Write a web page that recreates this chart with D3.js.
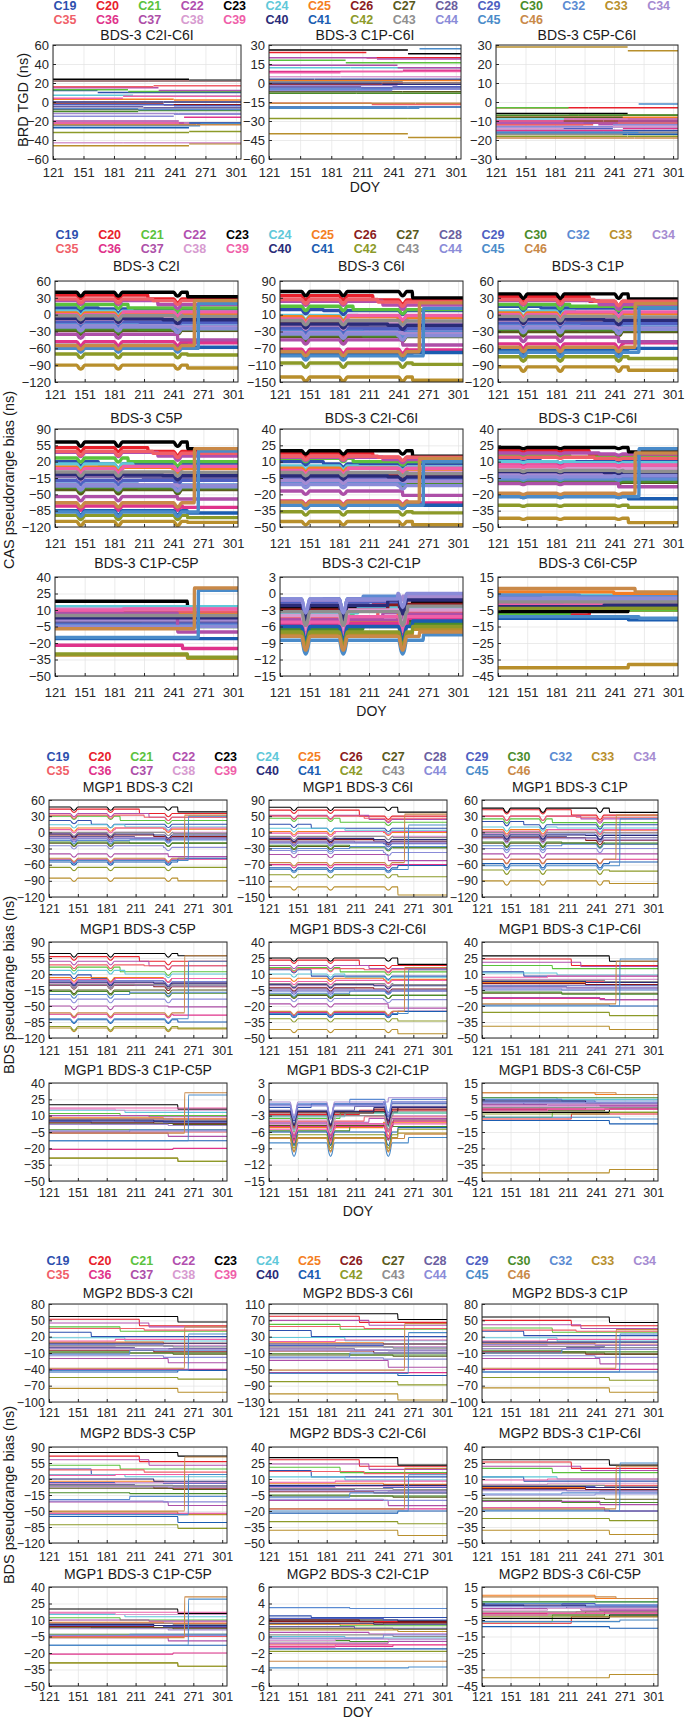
<!DOCTYPE html>
<html lang="en">
<head>
<meta charset="UTF-8">
<title>BDS-3 code biases</title>
<script src="https://cdn.jsdelivr.net/npm/d3@7"></script>
<style>
  body { margin: 0; background: #fff; }
  svg { font-family: "Liberation Sans", Arial, sans-serif; }
  .grid line { stroke: #e2e2e2; stroke-width: 0.7; }
  .grid path { display: none; }
  .ax path { display: none; }
  .ax line { stroke: #262626; }
  .ax text { fill: #262626; }
  .frame { fill: none; stroke: #262626; stroke-width: 1; }
</style>
</head>
<body>
<svg id="fig" width="685" height="1718"></svg>
<script>
// satellites, legend order
const sats = ["C19","C20","C21","C22","C23","C24","C25","C26","C27","C28","C29","C30","C32","C33","C34",
              "C35","C36","C37","C38","C39","C40","C41","C42","C43","C44","C45","C46"];
const satColors = ["#2d4fae","#e8212b","#5bc23d","#b14fae","#000000","#5fc8d9","#f47e22","#8a1b1d","#595a1c",
                   "#6b5f9f","#4f5fc2","#4a8c2b","#5b8bd2","#b88f2c","#a58bd1","#f05f69","#df338b","#ad4fa8",
                   "#d79bd0","#ef5fa9","#2a2b78","#1b5db1","#8c9a29","#8f8f8f","#8a8bd8","#4a8bc9","#c98948"];
// DOY where each satellite changes level
const stepDoy = [165,215,195,225,255,200,240,230,250,210,240,205,205,255,245,220,250,245,190,190,230,255,255,250,240,266,262];
const dipDoy = [147, 185, 245];
const doyTicks = [121, 151, 181, 211, 241, 271, 301];

// level before (a) and after (b) the step, per satellite, ns
const brdC2IC6I_a = [12,22,13,15,24,7,3,-2,-8,-5,-3,-10,-7,-46,-12,16,-22,-20,-43,4,0,-27,-32,22,-15,-25,-24];
const brdC2IC6I_b = [10,22,11,12,23,6,2,-3,-8,-6,-4,-9,-8,-44,-12,17,-16,-22,-43,6,0,-22,-31,22,-13,-23,-24];
const brdC1PC6I_a = [3,24,18,20,26,12,2,-1,-7,-3,-4,-8,-5,-40,-2,-16,9,14,5,8,0,-19,-28,1,-6,-20,-16];
const brdC1PC6I_b = [3,20,16,19,23,12,2,0,-7,-4,-3,-8,-5,-43,-1,-17,10,12,5,9,-1,-19,-28,0,-5,27,-16];
const brdC5PC6I_a = [-15,-3,-3,-11,-6,-9,-8,-10,-8,-12,-14,-7,-16,29,-13,-12,-15,-11,-14,-10,-16,-17,-18,-17,-13,-16,-19];
const brdC5PC6I_b = [-15,-3,-7,-12,-9,-9,-8,-10,-7,-11,-13,-7,-16,27,-13,-11,-14,-10,-13,-9,-16,-17,-18,-16,-12,-1,-19];

const casC2I_a = [12,35,18,25,40,6,3,-5,-28,-10,-14,-25,-18,-90,-20,28,-48,-35,-8,0,-7,-55,-70,-2,-22,-60,-55];
const casC2I_b = [10,28,12,18,32,5,2,-8,-28,-12,-14,-26,-20,-95,-22,25,-50,-45,-6,5,-9,-58,-72,-3,-25,20,25];
const casC6I_a = [22,55,30,42,65,8,5,-10,-42,-18,-24,-38,-30,-138,-33,46,-72,-50,-14,0,-12,-82,-105,-4,-36,-88,-78];
const casC6I_b = [20,45,22,33,50,6,3,-14,-42,-20,-24,-40,-32,-146,-35,40,-74,-62,-10,8,-15,-80,-108,-5,-40,25,38];
const casC1P_a = [15,32,18,25,37,6,3,-8,-30,-12,-16,-26,-20,-93,-22,27,-52,-40,-9,0,-8,-62,-75,-3,-24,-67,-58];
const casC1P_b = [12,24,15,18,28,4,2,-10,-30,-14,-16,-27,-22,-99,-24,24,-50,-48,-6,5,-10,-60,-78,-4,-26,12,20];
const casC5P_a = [20,50,28,40,62,15,8,-5,-40,-12,-20,-35,-28,-108,-30,42,-75,-55,-10,5,-8,-85,-95,-2,-32,-88,-68];
const casC5P_b = [15,42,20,32,48,10,5,-8,-40,-14,-20,-36,-30,-110,-32,38,-78,-60,-6,10,-10,-90,-100,-3,-34,43,48];
const casC2IC6I_a = [10,18,13,14,20,6,4,-1,-10,-4,-6,-9,-8,-45,-7,15,-26,-17,-2,2,-3,-30,-36,0,-11,-30,-27];
const casC2IC6I_b = [8,14,10,12,15,5,3,-2,-10,-5,-6,-10,-8,-48,-8,14,-28,-21,0,4,-4,-30,-37,-1,-12,10,13];
const casC1PC6I_a = [11,20,16,18,23,10,4,0,-9,-3,-5,-8,-6,-42,-2,14,7,-10,3,6,1,-22,-30,2,-4,-22,-19];
const casC1PC6I_b = [10,16,14,17,19,9,4,0,-9,-4,-5,-8,-6,-46,-1,13,6,-13,4,7,0,-24,-32,1,-3,22,18];
const casC1PC5P_a = [4,8,12,10,18,13,6,2,-1,0,-3,-5,-4,-31,1,9,-22,7,11,10,3,-16,-30,5,-5,-15,-7];
const casC1PC5P_b = [3,8,10,9,12,13,6,2,-1,-1,-3,-5,-4,-34,1,9,-25,-10,11,11,3,-16,-33,5,-5,28,30];
const casC2IC1P_a = [-2,-3,-4,-4.5,-2.5,-3.5,-5,-3,-6,-2,-1.5,-6.5,-1,-7.5,-1.2,-4.2,-5.5,-4.8,-4,-5.2,-2.2,-6,-7,-3.3,-1,-8.5,-7.8];
const casC2IC1P_b = [-1,-2,-3,-3.5,-1.5,-2.5,-4,-2,-5,-1,-0.5,-5.5,-0.5,-6.5,-0.5,-3.2,-4.5,-3.8,-3,-4.2,-1.2,-5,-6,-2.3,0,-7.5,-7];
const casC6IC5P_a = [3,-8,-7,0,-6,5,6,-2,-3,1,2,-4,4,-40,2,0,-1,-1,1,-2,-3,-10,-4,0,2,-9,8];
const casC6IC5P_b = [2,-5,-5,0,-2,4,5,-1,-2,1,1,-3,3,-38,2,0,-1,0,1,-1,-2,-11,-4,0,2,-10,6];

const mgp1C2I_a = [22,43,30,35,47,14,8,-5,-20,-8,-12,-18,-15,-85,-10,32,-50,-40,-2,5,-3,-55,-65,0,-25,-52,-48];
const mgp1C2I_b = [15,35,22,28,38,10,6,-8,-20,-10,-12,-20,-14,-90,-12,28,-50,-45,0,8,-5,-48,-65,-2,-28,30,32];
const mgp1C6I_a = [30,65,45,52,72,20,12,-8,-25,-12,-16,-22,-30,-125,-14,50,-70,-45,-3,8,-5,-78,-95,0,-35,-82,-65];
const mgp1C6I_b = [20,50,35,42,60,15,10,-12,-28,-14,-18,-28,-25,-145,-16,45,-70,-60,0,12,-8,-72,-100,-3,-40,28,55];
const mgp1C1P_a = [20,42,25,30,45,10,5,-10,-20,-8,-3,-18,-25,-90,-12,30,-50,-40,-2,2,-5,-58,-70,0,-30,-62,-50];
const mgp1C1P_b = [14,32,18,25,37,8,4,-15,-22,-10,-5,-20,-22,-95,-14,28,-50,-40,0,5,-6,-55,-72,-1,-30,25,32];
const mgp1C5P_a = [18,58,35,48,65,28,12,-5,-15,-2,5,-18,-25,-98,-4,40,-68,-50,0,8,2,-80,-95,-3,-35,-78,-65];
const mgp1C5P_b = [10,48,25,38,60,20,10,-8,-15,-4,3,-22,-20,-100,-6,38,-70,-52,0,10,0,-85,-98,-4,-35,48,60];
const mgp1C2IC6I_a = [14,23,16,18,25,10,6,-3,-10,-4,-6,-9,-8,-42,-5,15,-26,-18,-1,3,0,-28,-32,1,-13,-27,-25];
const mgp1C2IC6I_b = [8,18,12,15,19,7,5,-4,-10,-5,-6,-10,-6,-46,-6,14,-25,-22,0,4,-1,-25,-34,0,-14,14,16];
const mgp1C1PC6I_a = [12,24,18,21,27,11,2,1,-8,-2,-1,-7,-4,-39,-3,3,-13,-12,5,7,3,-19,-26,4,-5,-20,-18];
const mgp1C1PC6I_b = [8,18,15,17,22,9,2,0,-8,-3,-1,-9,-5,-42,-3,3,-14,-14,5,8,2,-20,-29,3,-4,24,22];
const mgp1C1PC5P_a = [5,7,12,10,20,15,8,4,3,6,5,-3,-5,-29,2,-5,-21,-6,16,17,6,-13,-29,7,-4,-13,-6];
const mgp1C1PC5P_b = [3,7,10,9,16,13,7,3,2,5,4,-3,-3,-32,1,-5,-20,-9,15,17,5,-13,-32,6,-4,29,31];
const mgp1C2IC1P_a = [-1.5,-2.8,-3.5,-4.2,-2.3,-3.2,-5.2,-2.5,-4.8,-2,-1,-5.8,-0.8,-7,-0.5,-4,-5,-4.5,-3.8,-5.5,-2.2,-6,-6.5,-3,-1.2,-8,-7.2];
const mgp1C2IC1P_b = [-0.8,-2,-2.5,-3.5,-1.5,-2.5,-4.2,-1.8,-3.8,-1.3,-0.5,-5,0,-6.2,0.3,-3.2,-4,-3.6,-3,-4.5,-1.5,-5.2,-5.5,-2.2,-0.5,-7,-6.4];
const mgp1C6IC5P_a = [3,-7,-6,1,-3,6,9,-1,-2,2,4,6,5,-40,3,0,-1,2,1,-2,4,-8,-4,0,3,-6,9];
const mgp1C6IC5P_b = [2,-4,-3,1,-1,5,8,0,-1,2,3,6,4,-38,2,0,-1,1,2,-1,3,-10,-3,0,3,-7,8];

const mgp2C2I_a = [28,52,38,45,57,18,10,-5,-10,0,5,-8,-12,-75,-2,35,-40,-20,2,12,8,-45,-55,3,-15,-42,-38];
const mgp2C2I_b = [20,40,30,38,47,12,8,-8,-12,-2,3,-10,-5,-82,-3,32,-40,-28,4,15,8,-42,-58,1,-18,25,38];
const mgp2C6I_a = [45,80,60,70,86,28,15,-5,-15,0,8,-12,-20,-110,-3,55,-58,-28,3,18,12,-60,-80,5,-22,-60,-52];
const mgp2C6I_b = [30,65,48,58,72,20,12,-10,-18,-3,5,-15,-10,-125,-5,50,-58,-45,6,22,12,-65,-88,2,-25,40,62];
const mgp2C1P_a = [30,50,36,42,56,18,8,-8,-10,2,6,-5,-10,-74,-2,32,-40,-20,4,12,10,-45,-55,2,-15,-45,-38];
const mgp2C1P_b = [22,40,28,35,46,12,6,-12,-12,0,4,-8,-3,-82,-3,30,-40,-30,5,15,10,-45,-60,0,-18,25,33];
const mgp2C5P_a = [42,70,50,62,78,30,15,5,0,8,12,-10,-25,-52,3,40,-55,-30,10,28,20,-62,-80,6,-28,-58,-50];
const mgp2C5P_b = [30,58,42,50,70,25,12,0,-3,5,10,-12,-18,-58,2,35,-55,-38,12,30,15,-75,-88,4,-30,30,68];
const mgp2C2IC6I_a = [18,28,21,24,30,12,6,-2,-6,0,3,-5,-7,-38,-1,17,-18,-10,2,7,4,-22,-30,1,-9,-20,-18];
const mgp2C2IC6I_b = [12,22,16,19,23,9,5,-3,-7,-1,2,-6,-3,-43,-2,15,-18,-15,3,8,4,-20,-32,0,-10,14,20];
const mgp2C1PC6I_a = [12,26,20,22,28,12,2,1,-8,0,3,-10,-4,-38,-1,4,-17,-11,5,9,3,-19,-27,4,-5,-20,-18];
const mgp2C1PC6I_b = [8,20,16,18,23,10,2,0,-9,-1,2,-12,-3,-42,-2,4,-20,-14,6,10,2,-20,-29,3,-4,25,22];
const mgp2C2IC1P_a = [2.5,2,1.5,0.5,2,0,1.5,1.8,1,1.2,2.2,-0.5,3.5,0.8,-0.3,-1,-1.2,-0.8,-0.5,-1.3,1.6,-1.5,-1.8,0.2,-0.2,-3.8,-3];
const mgp2C2IC1P_b = [2.3,1.8,1.3,0.3,1.9,-0.2,1.6,1.7,0.9,1,2,-0.6,3.4,0.6,-0.4,-1,-1,-0.6,-0.3,-1,1.5,-1.5,-1.8,0,0.2,-3.7,-3];
const mgp2C6IC5P_a = [4,-7,-6,2,-4,6,10,-1,-2,2,5,6,5,-40,3,-1,-1,2,1,-2,4,-9,-3,0,3,-6,9];
const mgp2C6IC5P_b = [3,-3,-2,1,-2,6,8,0,-1,3,4,6,4,-38,2,0,0,1,2,-1,3,-10,-3,0,3,-5,8];

// tick labels of the y axes
const yt60 = [60,40,20,0,-20,-40,-60];
const yt30 = [30,15,0,-15,-30,-45,-60];
const yt3010 = [30,20,10,0,-10,-20,-30];
const ytBig = [60,30,0,-30,-60,-90,-120];
const ytC6I = [90,50,10,-30,-70,-110,-150];
const ytC5P = [90,55,20,-15,-50,-85,-120];
const ytDiff = [40,25,10,-5,-20,-35,-50];
const ytSmall = [3,0,-3,-6,-9,-12,-15];
const ytC6IC5P = [15,5,-5,-15,-25,-35,-45];
const ytMgp2 = [80,50,20,-10,-40,-70,-100];
const ytMgp2C6I = [110,70,30,-10,-50,-90,-130];
const ytMgp2C2IC1P = [6,4,2,0,-2,-4,-6];

const colsWide = [[55,238],[280,463],[498,678]];
const colsMgp = [[49,227],[269,447],[482,658]];

const sections = [
  { ylabel: "BRD TGD (ns)", ylx: 23, yly: 100, legY: 6, legX: 65, legDx: 42.4, doyY: 187,
    cols: [[53,241],[269,461],[496,678]], lw: 1.5, fs: 13, gap: true,
    rows: [{ top: 45, bottom: 159, title: 35, ticks: 172 }],
    panels: [
      { t: "BDS-3 C2I-C6I", yt: yt60, a: brdC2IC6I_a, b: brdC2IC6I_b, dip: 0 },
      { t: "BDS-3 C1P-C6I", yt: yt30, a: brdC1PC6I_a, b: brdC1PC6I_b, dip: 0 },
      { t: "BDS-3 C5P-C6I", yt: yt3010, a: brdC5PC6I_a, b: brdC5PC6I_b, dip: 0 }
    ] },
  { ylabel: "CAS pseudorange bias (ns)", ylx: 9, yly: 480, legY: 235, legX: 67, legDx: 42.6, doyY: 711,
    cols: colsWide, lw: 3.4, fs: 13, gap: false,
    rows: [{ top: 281, bottom: 382, title: 266, ticks: 394 },
           { top: 429, bottom: 527, title: 418, ticks: 543 },
           { top: 577, bottom: 676, title: 563, ticks: 692 }],
    panels: [
      { t: "BDS-3 C2I", yt: ytBig, a: casC2I_a, b: casC2I_b, dip: 7 },
      { t: "BDS-3 C6I", yt: ytC6I, a: casC6I_a, b: casC6I_b, dip: 10 },
      { t: "BDS-3 C1P", yt: ytBig, a: casC1P_a, b: casC1P_b, dip: 8 },
      { t: "BDS-3 C5P", yt: ytC5P, a: casC5P_a, b: casC5P_b, dip: 9 },
      { t: "BDS-3 C2I-C6I", yt: ytDiff, a: casC2IC6I_a, b: casC2IC6I_b, dip: 3 },
      { t: "BDS-3 C1P-C6I", yt: ytDiff, a: casC1PC6I_a, b: casC1PC6I_b, dip: 1 },
      { t: "BDS-3 C1P-C5P", yt: ytDiff, a: casC1PC5P_a, b: casC1PC5P_b, dip: 0 },
      { t: "BDS-3 C2I-C1P", yt: ytSmall, a: casC2IC1P_a, b: casC2IC1P_b, dip: 2.5 },
      { t: "BDS-3 C6I-C5P", yt: ytC6IC5P, a: casC6IC5P_a, b: casC6IC5P_b, dip: 0 }
    ] },
  { ylabel: "BDS pseudorange bias (ns)", ylx: 9, yly: 985, legY: 757, legX: 58, legDx: 41.9, doyY: 1211,
    cols: colsMgp, lw: 1.1, fs: 12.5, gap: false,
    rows: [{ top: 800, bottom: 897, title: 787, ticks: 909 },
           { top: 942, bottom: 1038, title: 929, ticks: 1051 },
           { top: 1083, bottom: 1181, title: 1070, ticks: 1193 }],
    panels: [
      { t: "MGP1 BDS-3 C2I", yt: ytBig, a: mgp1C2I_a, b: mgp1C2I_b, dip: 6 },
      { t: "MGP1 BDS-3 C6I", yt: ytC6I, a: mgp1C6I_a, b: mgp1C6I_b, dip: 8 },
      { t: "MGP1 BDS-3 C1P", yt: ytBig, a: mgp1C1P_a, b: mgp1C1P_b, dip: 8 },
      { t: "MGP1 BDS-3 C5P", yt: ytC5P, a: mgp1C5P_a, b: mgp1C5P_b, dip: 8 },
      { t: "MGP1 BDS-3 C2I-C6I", yt: ytDiff, a: mgp1C2IC6I_a, b: mgp1C2IC6I_b, dip: 3 },
      { t: "MGP1 BDS-3 C1P-C6I", yt: ytDiff, a: mgp1C1PC6I_a, b: mgp1C1PC6I_b, dip: 0 },
      { t: "MGP1 BDS-3 C1P-C5P", yt: ytDiff, a: mgp1C1PC5P_a, b: mgp1C1PC5P_b, dip: 0 },
      { t: "MGP1 BDS-3 C2I-C1P", yt: ytSmall, a: mgp1C2IC1P_a, b: mgp1C2IC1P_b, dip: 2.5 },
      { t: "MGP1 BDS-3 C6I-C5P", yt: ytC6IC5P, a: mgp1C6IC5P_a, b: mgp1C6IC5P_b, dip: 0 }
    ] },
  { ylabel: "BDS pseudorange bias (ns)", ylx: 9, yly: 1495, legY: 1261, legX: 58, legDx: 41.9, doyY: 1712,
    cols: colsMgp, lw: 1.1, fs: 12.5, gap: false,
    rows: [{ top: 1304, bottom: 1402, title: 1293, ticks: 1413 },
           { top: 1447, bottom: 1543, title: 1433, ticks: 1557 },
           { top: 1587, bottom: 1686, title: 1574, ticks: 1697 }],
    panels: [
      { t: "MGP2 BDS-3 C2I", yt: ytMgp2, a: mgp2C2I_a, b: mgp2C2I_b, dip: 0 },
      { t: "MGP2 BDS-3 C6I", yt: ytMgp2C6I, a: mgp2C6I_a, b: mgp2C6I_b, dip: 0 },
      { t: "MGP2 BDS-3 C1P", yt: ytMgp2, a: mgp2C1P_a, b: mgp2C1P_b, dip: 0 },
      { t: "MGP2 BDS-3 C5P", yt: ytC5P, a: mgp2C5P_a, b: mgp2C5P_b, dip: 0 },
      { t: "MGP2 BDS-3 C2I-C6I", yt: ytDiff, a: mgp2C2IC6I_a, b: mgp2C2IC6I_b, dip: 0 },
      { t: "MGP2 BDS-3 C1P-C6I", yt: ytDiff, a: mgp2C1PC6I_a, b: mgp2C1PC6I_b, dip: 0 },
      { t: "MGP1 BDS-3 C1P-C5P", yt: ytDiff, a: mgp1C1PC5P_a, b: mgp1C1PC5P_b, dip: 0 },
      { t: "MGP2 BDS-3 C2I-C1P", yt: ytMgp2C2IC1P, a: mgp2C2IC1P_a, b: mgp2C2IC1P_b, dip: 0 },
      { t: "MGP2 BDS-3 C6I-C5P", yt: ytC6IC5P, a: mgp2C6IC5P_a, b: mgp2C6IC5P_b, dip: 0 }
    ] }
];

const svg = d3.select("#fig");
const line = d3.line().defined(d => d !== null).x(d => d[0]).y(d => d[1]).curve(d3.curveMonotoneX);
let clipId = 0;

// breakpoints of one satellite: level a, dips, step to level b (or a gap in the record)
function seriesPoints(a, b, step, dip, gap) {
  const pts = [[121, a]];
  const addDips = (days, v) => days.forEach(d => {
    if (dip) pts.push([d - 4, v], [d - 1.5, v - dip * 0.8], [d, v - dip], [d + 1.5, v - dip * 0.8], [d + 4, v]);
  });
  addDips(dipDoy.filter(d => d < step), a);
  pts.push([step - 0.2, a]);
  if (gap) pts.push(null);
  pts.push([step, b]);
  addDips(dipDoy.filter(d => d > step), b);
  pts.push([307, b]);
  return pts;
}

function drawLegend(sec) {
  const g = svg.append("g");
  sats.forEach((s, i) => {
    const col = i % 15, row = Math.floor(i / 15);
    g.append("text")
      .attr("x", sec.legX + col * sec.legDx)
      .attr("y", sec.legY + row * 14)
      .attr("dy", "0.35em")
      .attr("text-anchor", "middle")
      .attr("font-size", 12.5)
      .attr("font-weight", "bold")
      .attr("fill", satColors[i])
      .text(s);
  });
}

function drawPanel(sec, p, col, row) {
  const [x0, x1] = sec.cols[col];
  const x = d3.scaleLinear().domain([121, 306]).range([x0, x1]);
  const y = d3.scaleLinear().domain([d3.min(p.yt), d3.max(p.yt)]).range([row.bottom, row.top]);
  const g = svg.append("g");

  g.append("g").attr("class", "grid")
    .attr("transform", `translate(0,${row.bottom})`)
    .call(d3.axisBottom(x).tickValues(doyTicks).tickSize(-(row.bottom - row.top)).tickFormat(""));
  g.append("g").attr("class", "grid")
    .attr("transform", `translate(${x0},0)`)
    .call(d3.axisLeft(y).tickValues(p.yt).tickSize(-(x1 - x0)).tickFormat(""));

  const id = "clip" + (clipId++);
  g.append("clipPath").attr("id", id)
    .append("rect").attr("x", x0).attr("y", row.top).attr("width", x1 - x0).attr("height", row.bottom - row.top);

  const lines = g.append("g").attr("clip-path", `url(#${id})`);
  sats.forEach((s, i) => {
    const pts = seriesPoints(p.a[i], p.b[i], stepDoy[i], p.dip, sec.gap)
      .map(d => d === null ? null : [x(d[0]), y(d[1])]);
    lines.append("path")
      .attr("d", line(pts))
      .attr("fill", "none")
      .attr("stroke", satColors[i])
      .attr("stroke-width", sec.lw)
      .attr("stroke-linejoin", "round");
  });

  const ax = g.append("g").attr("class", "ax")
    .attr("transform", `translate(0,${row.bottom})`)
    .call(d3.axisBottom(x).tickValues(doyTicks).tickSizeInner(-3).tickSizeOuter(0).tickPadding(4));
  ax.selectAll("text").attr("font-size", sec.fs).attr("y", row.ticks - row.bottom).attr("dy", "0.35em");
  ax.attr("font-family", null).attr("font-size", null);

  const ay = g.append("g").attr("class", "ax")
    .attr("transform", `translate(${x0},0)`)
    .call(d3.axisLeft(y).tickValues(p.yt).tickSizeInner(-3).tickSizeOuter(0).tickPadding(4));
  ay.selectAll("text").attr("font-size", sec.fs);
  ay.attr("font-family", null).attr("font-size", null);

  g.append("rect").attr("class", "frame")
    .attr("x", x0).attr("y", row.top).attr("width", x1 - x0).attr("height", row.bottom - row.top);

  g.append("text")
    .attr("x", (x0 + x1) / 2).attr("y", row.title).attr("dy", "0.35em")
    .attr("text-anchor", "middle").attr("font-size", 14).attr("fill", "#1a1a1a")
    .text(p.t);
}

sections.forEach(sec => {
  drawLegend(sec);
  sec.panels.forEach((p, k) => drawPanel(sec, p, k % 3, sec.rows[Math.floor(k / 3)]));
  const mid = (sec.cols[1][0] + sec.cols[1][1]) / 2;
  svg.append("text").attr("x", mid).attr("y", sec.doyY).attr("dy", "0.35em")
    .attr("text-anchor", "middle").attr("font-size", 14).attr("fill", "#1a1a1a").text("DOY");
  svg.append("text")
    .attr("transform", `translate(${sec.ylx},${sec.yly}) rotate(-90)`)
    .attr("dy", "0.35em").attr("text-anchor", "middle")
    .attr("font-size", 14.5).attr("fill", "#1a1a1a").text(sec.ylabel);
});
</script>
</body>
</html>
